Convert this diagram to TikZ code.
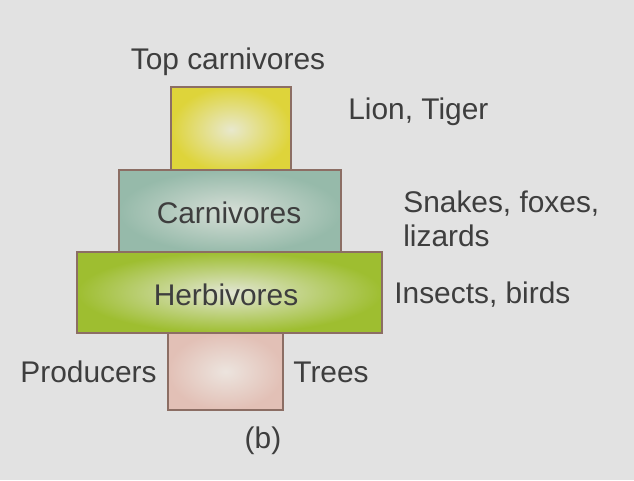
\documentclass[tikz,border=0pt]{standalone}
\usepackage{fontspec}
\setmainfont{Liberation Sans}
\usepackage{tikz}

\definecolor{paper}{RGB}{226,226,226}
\definecolor{ink}{RGB}{62,62,62}
\definecolor{rim}{RGB}{140,110,100}
\definecolor{topOut}{RGB}{222,212,58}
\definecolor{topIn}{RGB}{232,232,205}
\definecolor{carnOut}{RGB}{150,186,170}
\definecolor{carnIn}{RGB}{214,222,214}
\definecolor{herbOut}{RGB}{158,190,48}
\definecolor{herbIn}{RGB}{226,230,212}
\definecolor{prodOut}{RGB}{226,192,182}
\definecolor{prodIn}{RGB}{236,228,222}

\tikzset{
  level/.style={shape=rectangle, draw=rim, line width=0.6pt, inner sep=0pt, text=ink},
  label/.style={inner sep=0pt, text=ink}
}

\begin{document}
\begin{tikzpicture}[font=\fontsize{17}{21}\selectfont]
  \fill[paper] (0, 0) rectangle (12.68, 9.6);
  \useasboundingbox (0, 0) rectangle (12.68, 9.6);
  \node (prod) at (4.51, 2.17) [level, minimum width=2.3cm, minimum height=1.54cm, inner color=prodIn, outer color=prodOut] {};
  \node (top) at (4.62, 7.01) [level, minimum width=2.4cm, minimum height=1.7cm, inner color=topIn, outer color=topOut] {};
  \node (carn) at (4.6, 5.37) [level, minimum width=4.44cm, minimum height=1.66cm, inner color=carnIn, outer color=carnOut] {};
  \node (herb) at (4.59, 3.75) [level, minimum width=6.1cm, minimum height=1.62cm, inner color=herbIn, outer color=herbOut] {};
  \node (carnText) at (4.58, 5.34) [label] {Carnivores};
  \node (herbText) at (4.52, 3.7) [label] {Herbivores};
  \node (topLabel) at (4.56, 8.36) [label] {Top carnivores};
  \node (lion) at (6.96, 7.36) [label, anchor=west] {Lion, Tiger};
  \node (snakes) at (8.06, 5.22) [label, anchor=west, align=left] {Snakes, foxes,\\[-0.05cm]lizards};
  \node (insects) at (7.88, 3.7) [label, anchor=west] {Insects, birds};
  \node (prodLabel) at (3.14, 2.16) [label, anchor=east] {Producers};
  \node (trees) at (5.86, 2.16) [label, anchor=west] {Trees};
  \node (caption) at (5.26, 0.78) [label] {(b)};
\end{tikzpicture}
\end{document}
